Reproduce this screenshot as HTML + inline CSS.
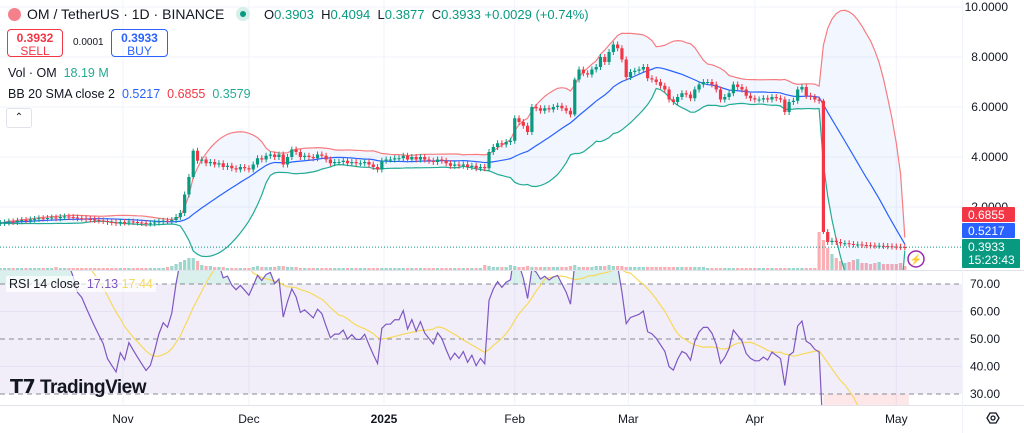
<!DOCTYPE html>
<html><head><meta charset="utf-8">
<style>
html,body{margin:0;padding:0;background:#fff;width:1024px;height:433px;overflow:hidden;font-family:"Liberation Sans",sans-serif;}
#wrap{position:relative;width:1024px;height:433px;}
svg{position:absolute;left:0;top:0;}
.t{position:absolute;white-space:nowrap;font-size:12.5px;color:#131722;}
</style></head>
<body>
<div id="wrap">
<svg id="chart" width="1024" height="433"></svg>

<div class="t" style="left:8px;top:6px;font-size:14px"><span style="display:inline-block;width:13px;height:13px;border-radius:50%;background:#f4808c;vertical-align:-2px;margin-right:6px"></span>OM / TetherUS · 1D · BINANCE</div>
<div style="position:absolute;left:236px;top:7px;width:14px;height:14px;border-radius:50%;background:#d6efe9"><div style="position:absolute;left:4px;top:4px;width:6px;height:6px;border-radius:50%;background:#089981"></div></div>
<div class="t" style="left:264px;top:7px;font-size:13px">O<span style="color:#089981">0.3903</span>&nbsp; H<span style="color:#089981">0.4094</span>&nbsp; L<span style="color:#089981">0.3877</span>&nbsp; C<span style="color:#089981">0.3933 +0.0029 (+0.74%)</span></div>
<div style="position:absolute;left:7px;top:29px;width:56px;height:28px;border:1px solid #f23645;border-radius:4px;text-align:center;color:#f23645;font-size:12px;line-height:13px;padding-top:2px;box-sizing:border-box"><b style="font-weight:600">0.3932</b><br>SELL</div>
<div class="t" style="left:73px;top:37px;font-size:10px">0.0001</div>
<div style="position:absolute;left:111px;top:29px;width:57px;height:28px;border:1px solid #2962ff;border-radius:4px;text-align:center;color:#2962ff;font-size:12px;line-height:13px;padding-top:2px;box-sizing:border-box"><b style="font-weight:600">0.3933</b><br>BUY</div>
<div class="t" style="left:8px;top:66px">Vol · OM &nbsp;<span style="color:#22ab94">18.19 M</span></div>
<div class="t" style="left:8px;top:87px">BB 20 SMA close 2 &nbsp;<span style="color:#2962ff">0.5217</span>&nbsp; <span style="color:#f23645">0.6855</span>&nbsp; <span style="color:#22ab94">0.3579</span></div>
<div style="position:absolute;left:6px;top:108px;width:24px;height:18px;border:1px solid #e0e3eb;border-radius:3px;text-align:center;font-size:10px;line-height:18px;color:#131722;background:#fff">⌃</div>
<div class="t" style="left:6px;top:276px;background:rgba(255,255,255,0.7);padding:1px 3px">RSI 14 close &nbsp;<span style="color:#7e57c2">17.13</span> <span style="color:#f7d95a">17.44</span></div>
<div class="t" style="left:10px;top:376px;font-size:19px;font-weight:bold;letter-spacing:-0.5px">𝗧𝟳 TradingView</div>
</div>
<script>
// ---- data ----
const closes=[1.36,1.38,1.42,1.40,1.45,1.48,1.46,1.50,1.52,1.55,1.54,
1.56,1.58,1.55,1.60,1.62,1.60,1.58,1.55,1.54,1.52,
1.50,1.48,1.46,1.44,1.40,1.38,1.36,1.40,1.38,1.42,
1.40,1.38,1.36,1.34,1.35,1.38,1.42,1.45,1.44,1.48,
1.60,1.76,2.5,3.2,4.25,3.85,3.9,3.75,3.8,3.7,3.75,3.6,3.65,3.55,3.5,3.6,3.55,3.5,3.7,3.95,
3.9,4.05,4.1,4.0,4.1,3.7,4.0,4.3,4.2,4.0,4.05,4.0,3.95,4.1,4.05,3.9,3.75,3.8,3.8,3.85,
3.75,3.8,3.75,3.75,3.8,3.7,3.6,3.5,3.85,3.9,3.9,3.95,3.95,4.05,3.9,4.0,3.9,4.0,3.9,3.85,
3.8,3.9,3.85,3.75,3.65,3.7,3.65,3.7,3.6,3.65,3.55,3.6,3.55,4.2,4.4,4.55,4.5,4.6,4.65,5.55,
5.4,5.25,5.0,6.0,5.95,5.85,5.95,5.9,6.0,6.05,5.95,5.85,5.7,7.1,7.5,7.35,7.3,7.5,7.6,8.0,
7.8,8.2,8.5,8.35,7.9,7.2,7.4,7.45,7.5,7.6,7.15,7.1,7.0,6.85,6.7,6.3,6.2,6.4,6.55,6.5,
6.35,6.7,6.9,7.0,7.0,6.9,6.7,6.3,6.4,6.55,6.9,6.8,6.7,6.45,6.35,6.3,6.3,6.35,6.3,6.4,
6.35,6.3,5.8,6.2,6.25,6.7,6.8,6.45,6.4,6.3,6.25,1.0,0.6,0.65,0.6,0.55,0.55,0.52,0.5,0.5,
0.48,0.47,0.46,0.45,0.45,0.44,0.43,0.42,0.41,0.40,0.3933];
const volumes=[2,2,2,2,2,2,2,2,2,2,2,2,2,3,2,2,2,2,2,2,2,2,2,2,2,2,2,2,2,2,2,2,2,2,2,2,2,2,2,3,
4,6,8,10,12,12,9,5,4,4,3,3,3,2,2,2,2,2,2,3,4,3,3,3,3,4,4,3,3,3,2,2,2,2,2,2,2,2,2,2,
2,2,2,2,2,2,2,2,2,2,2,2,2,2,2,2,2,2,2,2,2,2,2,2,2,2,2,2,2,2,2,2,2,5,4,3,3,3,3,5,
4,3,3,4,3,3,3,3,3,3,3,3,3,4,5,3,3,3,3,4,4,4,5,4,4,4,3,3,3,3,3,3,3,3,3,3,3,3,3,3,
3,3,3,3,3,2,2,2,2,2,2,2,2,2,2,2,2,2,2,2,2,2,2,2,2,2,2,2,2,2,2,38,30,22,16,12,9,7,8,10,
11,7,7,6,7,8,6,6,6,6,7,4];
const priceTicks=[10,8,6,4,2];
const priceTickLabels=["10.0000","8.0000","6.0000","4.0000","2.0000"];
const rsiTicks=[70,60,50,40,30];
const rsiTickLabels=["70.00","60.00","50.00","40.00","30.00"];
const monthLabels=["Nov","Dec","2025","Feb","Mar","Apr","May"];
const monthDayIndex=[28.6,58,89.5,120,146.5,176,209];

// ---- scales ----
const PLOT_R=962;
const X=i=>0.3+4.287*i;
const PY=p=>257-25*p;
const RY=v=>394-(v-30)*2.75;
const VY=v=>270-v;
const NS="http://www.w3.org/2000/svg";
const svg=document.getElementById('chart');
function mk(tag,attrs,parent){const e=document.createElementNS(NS,tag);for(const k in attrs)e.setAttribute(k,attrs[k]);(parent||svg).appendChild(e);return e;}

// clip paths
const defs=mk('defs',{});
const c1=mk('clipPath',{id:'mainclip'},defs);mk('rect',{x:0,y:0,width:PLOT_R,height:270},c1);
const c2=mk('clipPath',{id:'rsiclip'},defs);mk('rect',{x:0,y:271,width:PLOT_R,height:134},c2);
const c3=mk('clipPath',{id:'obclip'},defs);mk('rect',{x:0,y:271,width:PLOT_R,height:13},c3);

// grid
const grid=mk('g',{});


priceTicks.forEach(p=>mk('line',{x1:0,x2:PLOT_R,y1:PY(p),y2:PY(p),stroke:'#f0f3fa'},grid));
rsiTicks.forEach((v,i)=>{if(i%2==1)mk('line',{x1:0,x2:PLOT_R,y1:RY(v),y2:RY(v),stroke:'#f0f3fa'},grid);});
monthDayIndex.forEach(d=>mk('line',{x1:X(d),x2:X(d),y1:0,y2:405,stroke:'#f0f3fa'},grid));

// indicators
const n=closes.length;
const mid=[],up=[],lo=[];
for(let i=0;i<n;i++){const s=closes.slice(Math.max(0,i-19),i+1);const m=s.reduce((a,b)=>a+b,0)/s.length;const sd=Math.sqrt(s.reduce((a,b)=>a+(b-m)*(b-m),0)/s.length);mid.push(m);up.push(m+2*sd);lo.push(m-2*sd);}
const main=mk('g',{'clip-path':'url(#mainclip)'});


// volume
closes.forEach((c,i)=>{const o=i?closes[i-1]:c;const r=mk('rect',{x:X(i)-1.6,y:VY(volumes[i]||2),width:3.2,height:(volumes[i]||2),fill:c>=o?'rgba(8,153,129,0.4)':'rgba(242,54,69,0.4)'},main);

});
// BB fill
let fp='M'+up.map((v,i)=>X(i)+','+PY(v)).join('L')+'L'+lo.map((v,i)=>X(i)+','+PY(v)).reverse().join('L')+'Z';
const bbf=mk('path',{d:fp,fill:'rgba(41,98,255,0.06)'},main);


[[up,'#f77c80','bb-upper'],[mid,'#2962ff','bb-basis'],[lo,'#22ab94','bb-lower']].forEach(([a,col,nm])=>{const p=mk('path',{d:'M'+a.map((v,i)=>X(i)+','+PY(v)).join('L'),fill:'none',stroke:col,'stroke-width':1.2},main);

});
// candles
closes.forEach((c,i)=>{const o=i?closes[i-1]:c;const col=c>=o?'#089981':'#f23645';const x=X(i);
const hi=PY(Math.max(o,c))-(Math.abs(c-o)>1?2:3),loY=PY(Math.min(o,c))+(Math.abs(c-o)>1?2:3);
const g=mk('g',{},main);


mk('line',{x1:x,x2:x,y1:hi,y2:loY,stroke:col,'stroke-width':1},g);
const top=PY(Math.max(o,c)),h=Math.max(1,Math.abs(PY(o)-PY(c)));
mk('rect',{x:x-1.6,y:top,width:3.2,height:h,fill:col},g);});
// last price line
const lp=mk('line',{x1:0,x2:PLOT_R,y1:PY(0.3933),y2:PY(0.3933),stroke:'#089981','stroke-dasharray':'1,2'});



// RSI
const rsi=[];let ag=0,al=0;
for(let i=1;i<n;i++){const d=closes[i]-closes[i-1];const g=Math.max(d,0),l=Math.max(-d,0);
if(i<=14){ag+=g/14;al+=l/14;}else{ag=(ag*13+g)/14;al=(al*13+l)/14;}
rsi[i]=al==0?100:100-100/(1+ag/al);}
rsi[0]=rsi[1];
const rma=rsi.map((v,i)=>{const s=rsi.slice(Math.max(0,i-13),i+1);return s.reduce((a,b)=>a+b,0)/s.length;});
const rp=mk('g',{'clip-path':'url(#rsiclip)'});


mk('rect',{x:0,y:RY(70),width:PLOT_R,height:RY(30)-RY(70),fill:'rgba(126,87,194,0.1)'},rp);
const rline='M'+rsi.map((v,i)=>X(i)+','+RY(v)).join('L');
mk('path',{d:rline+'L'+X(n-1)+','+RY(70)+'L0,'+RY(70)+'Z',fill:'rgba(8,153,129,0.15)','clip-path':'url(#obclip)'},rp);
mk('rect',{x:X(192),y:RY(30),width:X(n-1)-X(192)+4,height:12,fill:'rgba(242,54,69,0.12)'},rp);
[70,50,30].forEach(v=>mk('line',{x1:0,x2:PLOT_R,y1:RY(v),y2:RY(v),stroke:'#868993','stroke-dasharray':'5,4','stroke-width':1},rp));
const rm=mk('path',{d:'M'+rma.map((v,i)=>X(i)+','+RY(v)).join('L'),fill:'none',stroke:'#f7d95a','stroke-width':1.2},rp);


const rl=mk('path',{d:rline,fill:'none',stroke:'#7e57c2','stroke-width':1.2},rp);



// separators
mk('line',{x1:0,x2:1024,y1:270.5,y2:270.5,stroke:'#e0e3eb'});
mk('line',{x1:0,x2:1024,y1:405.5,y2:405.5,stroke:'#e0e3eb'});
mk('line',{x1:962.5,x2:962.5,y1:0,y2:433,stroke:'#f0f3fa'});

// axes labels
priceTicks.forEach((p,i)=>{const t=mk('text',{x:1008,y:PY(p)+4,'text-anchor':'end','font-size':12,fill:'#131722','font-family':'Liberation Sans'});t.textContent=priceTickLabels[i];

});
rsiTicks.forEach((v,i)=>{const t=mk('text',{x:1000,y:RY(v)+4,'text-anchor':'end','font-size':12,fill:'#131722','font-family':'Liberation Sans'});t.textContent=rsiTickLabels[i];

});
monthLabels.forEach((m,i)=>{const t=mk('text',{x:X(monthDayIndex[i]),y:423,'text-anchor':'middle','font-size':12,fill:'#131722','font-weight':m=='2025'?'bold':'normal','font-family':'Liberation Sans'});t.textContent=m;

});

// price tags
[['0.6855','#f23645',207,15],['0.5217','#2962ff',223,15],['0.3933','#089981',239,29]].forEach(([txt,col,y,h])=>{
const g=mk('g',{});


mk('rect',{x:962,y:y,width:h>20?58:53,height:h,fill:col,rx:1},g);
const t=mk('text',{x:968,y:y+12,'font-size':12,fill:'#fff','font-family':'Liberation Sans'},g);t.textContent=txt;
if(h>20){const t2=mk('text',{x:968,y:y+25,'font-size':12,fill:'#fff','font-family':'Liberation Sans'},g);t2.textContent='15:23:43';}
});
// lightning icon
const li=mk('g',{});


mk('circle',{cx:916,cy:259,r:8,fill:'#fff',stroke:'#9c27b0','stroke-width':1.5},li);
const lt=mk('text',{x:916,y:263,'text-anchor':'middle','font-size':10,fill:'#9c27b0'},li);lt.textContent='⚡';
// settings gear
const gr=mk('g',{});


mk('polygon',{points:'987,418 990,413 996,413 999,418 996,423 990,423',fill:'none',stroke:'#131722','stroke-width':1.3},gr);
mk('circle',{cx:993,cy:418,r:2,fill:'none',stroke:'#131722','stroke-width':1.3},gr);
</script>
</body></html>
